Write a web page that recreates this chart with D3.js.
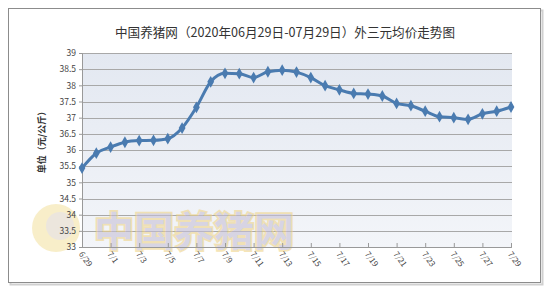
<!DOCTYPE html>
<html lang="zh-cn">
<head>
  <meta charset="utf-8">
  <title>外三元均价走势图</title>
  <script src="https://d3js.org/d3.v7.min.js"></script>
  <style>
    body { margin: 0; background: #fff; }
    text { font-family: "Noto Sans CJK SC", "Noto Sans", sans-serif; }
  </style>
</head>
<body>
<svg></svg>
<script>
// 日期与价格（元/公斤）
const dates = ['6/29','6/30','7/1','7/2','7/3','7/4','7/5','7/6','7/7','7/8','7/9','7/10',
  '7/11','7/12','7/13','7/14','7/15','7/16','7/17','7/18','7/19','7/20','7/21','7/22',
  '7/23','7/24','7/25','7/26','7/27','7/28','7/29']
const prices = [35.44, 35.9, 36.09, 36.24, 36.29, 36.3, 36.35, 36.68, 37.32, 38.11, 38.37, 38.36,
  38.24, 38.42, 38.47, 38.41, 38.24, 37.99, 37.86, 37.75, 37.73, 37.67, 37.44, 37.37,
  37.2, 37.03, 37.0, 36.95, 37.12, 37.2, 37.33]
const yTicks = [33, 33.5, 34, 34.5, 35, 35.5, 36, 36.5, 37, 37.5, 38, 38.5, 39]
const xLabels = dates.filter((d, i) => i % 2 === 0)

const title = '中国养猪网（2020年06月29日-07月29日）外三元均价走势图'
const yTitle = '单位（元/公斤）'

const W = 550, H = 293
const pLeft = 82, pRight = 511, pTop = 53, pBottom = 247

const svg = d3.select('svg')
  .attr('width', W)
  .attr('height', H)

// 背景渐变
const defs = svg.append('defs')
const grad = defs.append('linearGradient')
  .attr('id', 'bg').attr('x1', 0).attr('y1', 0).attr('x2', 0).attr('y2', 1)
grad.append('stop').attr('offset', '0%').attr('stop-color', '#e3e8f1')
grad.append('stop').attr('offset', '100%').attr('stop-color', '#f3f5f9')

// 外框
svg.append('rect')
  .attr('x', 10.5).attr('y', 10.5).attr('width', 532).attr('height', 274)
  .attr('fill', 'none').attr('stroke', '#d0d0d0').attr('stroke-width', 2)
svg.append('rect')
  .attr('x', 8.5).attr('y', 8.5).attr('width', 532).attr('height', 274)
  .attr('fill', '#fff').attr('stroke', '#8c8c8c')

svg.append('text')
  .attr('x', 285).attr('y', 37)
  .attr('text-anchor', 'middle')
  .attr('font-size', 12.6)
  .attr('fill', '#333')
  .text(title)

const x = d3.scalePoint().domain(dates).range([pLeft, pRight])
const y = d3.scaleLinear().domain([33, 39]).range([pBottom, pTop])

svg.append('rect')
  .attr('x', pLeft).attr('y', pTop)
  .attr('width', pRight - pLeft + 1).attr('height', pBottom - pTop)
  .attr('fill', 'url(#bg)')

// 网格线
svg.append('g')
  .selectAll('line')
  .data(yTicks)
  .join('line')
    .attr('x1', pLeft).attr('x2', pRight + 1)
    .attr('y1', d => Math.round(y(d)) + 0.5)
    .attr('y2', d => Math.round(y(d)) + 0.5)
    .attr('stroke', '#a8a8a8')

// 水印
const wm = svg.append('g').attr('opacity', 0.6)
wm.append('circle')
  .attr('cx', 56).attr('cy', 228).attr('r', 24)
  .attr('fill', '#f5e4a6')
wm.append('circle')
  .attr('cx', 60).attr('cy', 226).attr('r', 14)
  .attr('fill', '#e0d6c8')
wm.append('text')
  .attr('x', 94).attr('y', 246)
  .attr('font-size', 40).attr('font-weight', 'bold')
  .attr('fill', '#c6c0d6').attr('stroke', '#efd489').attr('stroke-width', 3.5)
  .attr('paint-order', 'stroke')
  .text('中国养猪网')

// y 轴
const yAxis = svg.append('g')
  .attr('transform', `translate(${pLeft},0)`)
  .call(d3.axisLeft(y).tickValues(yTicks).tickSize(3).tickFormat(d => String(d)))
yAxis.select('.domain').attr('stroke', '#999')
yAxis.selectAll('line').attr('stroke', '#999')
yAxis.selectAll('text').attr('font-size', 8.5).attr('fill', '#444')
  .attr('font-family', '"Liberation Sans", sans-serif')

svg.append('text')
  .attr('transform', `translate(45,140) rotate(-90)`)
  .attr('text-anchor', 'middle')
  .attr('font-size', 9)
  .attr('font-weight', 'bold')
  .attr('fill', '#333')
  .text(yTitle)

// x 轴
const xAxis = svg.append('g')
  .attr('transform', `translate(0,${pBottom})`)
  .call(d3.axisBottom(x).tickValues(xLabels).tickSize(0).tickPadding(0))
xAxis.select('.domain').attr('stroke', '#999')
xAxis.selectAll('.tick').append('line')
  .attr('y1', 0).attr('y2', -4).attr('stroke', '#999')
xAxis.selectAll('text')
  .attr('font-size', 8)
  .attr('fill', '#444')
  .attr('font-family', '"Liberation Sans", sans-serif')
  .attr('text-anchor', 'start')
  .attr('dy', 0)
  .attr('transform', 'translate(-4,7) rotate(55)')

// 折线
const line = d3.line()
  .x((d, i) => x(dates[i]))
  .y(d => y(d))
  .curve(d3.curveMonotoneX)

svg.append('path')
  .datum(prices)
  .attr('d', line)
  .attr('fill', 'none')
  .attr('stroke', '#4a7bb0')
  .attr('stroke-width', 3)

svg.append('g')
  .selectAll('path')
  .data(prices)
  .join('path')
    .attr('d', d3.symbol(d3.symbolDiamond, 40))
    .attr('transform', (d, i) => `translate(${x(dates[i])},${y(d)})`)
    .attr('fill', '#4a7bb0')
</script>
</body>
</html>
